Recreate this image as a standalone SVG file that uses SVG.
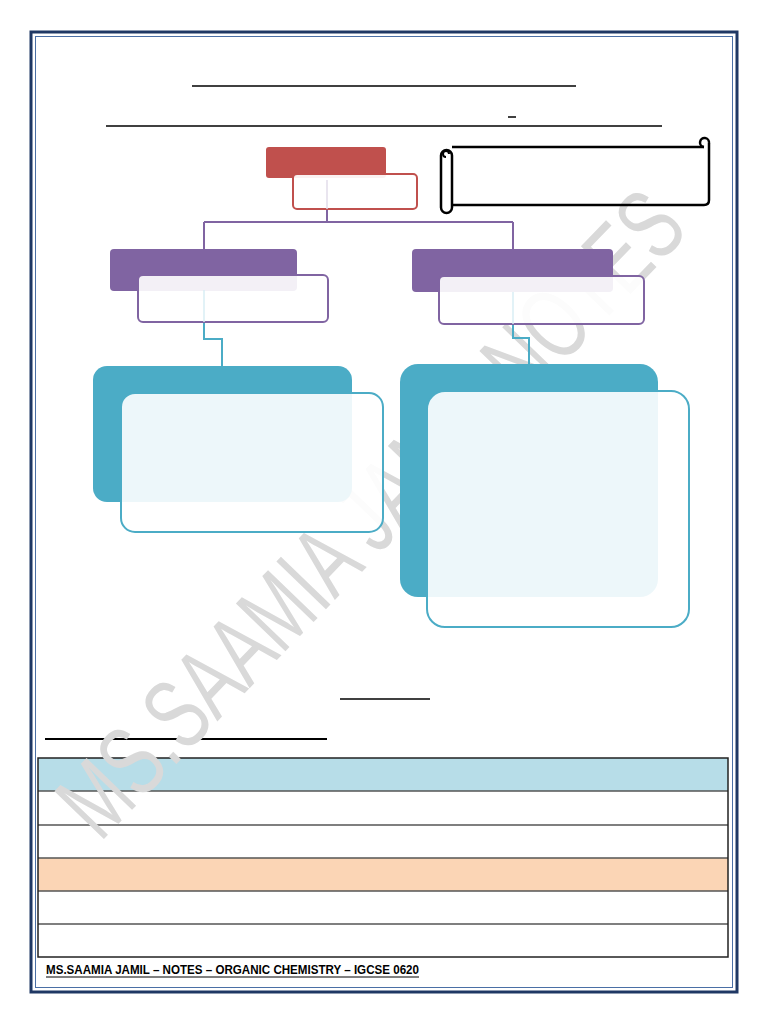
<svg xmlns="http://www.w3.org/2000/svg" width="768" height="1024" viewBox="0 0 768 1024">
<defs>
<style>
.rule{stroke:#000;stroke-width:1.5;fill:none}
.redf{fill:#c0504d}
.redb{fill:#fff;fill-opacity:0.92;stroke:#c0504d;stroke-width:2}
.purf{fill:#8064a2}
.purb{fill:#fff;fill-opacity:0.9;stroke:#8064a2;stroke-width:2}
.tealf{fill:#4bacc6}
.tealb{fill:#fff;fill-opacity:0.9;stroke:#4bacc6;stroke-width:2}
.conn-p{stroke:#8064a2;stroke-width:2;fill:none}
.conn-t{stroke:#4bacc6;stroke-width:2;fill:none}
.ghost{stroke:#e2ddea;stroke-width:1.5;fill:none}
.row{stroke:#555;stroke-width:1.5}
.wm{font-family:"Liberation Sans Narrow","Liberation Sans",Arial,sans-serif;font-size:100px;fill:#d9d9d9}
.foot{font-family:"Liberation Sans Narrow","Liberation Sans",Arial,sans-serif;font-size:13px;font-weight:bold;fill:#000}
</style>
</defs>
<rect width="768" height="1024" fill="#fff"/>
<!-- page border -->
<g id="page-border">
<rect x="31" y="32" width="706" height="960" fill="none" stroke="#1f3864" stroke-width="3"/>
<rect x="35.5" y="36.5" width="697" height="951" fill="none" stroke="#4a6fa5" stroke-width="1"/>
</g>
<!-- heading rules -->
<g id="heading-rules">
<line class="rule" x1="192" y1="86" x2="576" y2="86"/>
<line class="rule" x1="106" y1="126" x2="662" y2="126"/>
<line class="rule" x1="508" y1="117" x2="516" y2="117"/>
<line class="rule" x1="340" y1="699" x2="430" y2="699"/>
<line x1="45" y1="739" x2="327" y2="739" stroke="#000" stroke-width="2"/>
</g>
<!-- table -->
<g id="table">
<rect x="38" y="758" width="690" height="33" fill="#b7dde8"/>
<rect x="38" y="858" width="690" height="33" fill="#fbd5b5"/>
<line class="row" x1="38" y1="791" x2="728" y2="791"/>
<line class="row" x1="38" y1="825" x2="728" y2="825"/>
<line class="row" x1="38" y1="858" x2="728" y2="858"/>
<line class="row" x1="38" y1="891" x2="728" y2="891"/>
<line class="row" x1="38" y1="924" x2="728" y2="924"/>
<rect x="38" y="758" width="690" height="199" fill="none" stroke="#222" stroke-width="1.5"/>
</g>
<!-- watermark -->
<g id="watermark">
<text class="wm" x="0" y="0" textLength="850" lengthAdjust="spacingAndGlyphs" transform="translate(100,843) rotate(-46)">MS.SAAMIA JAMIL NOTES</text>
</g>
<!-- connectors -->
<g id="connectors">
<path class="conn-p" d="M327,209 V222 M204,222 H513 M204,222 V249 M513,222 V249"/>
<path class="conn-t" d="M204,322 V339 H222 V366"/>
<path class="conn-t" d="M513,324 V338 H529 V364"/>
</g>
<!-- nodes -->
<g id="node-root">
<rect class="redf" x="266" y="147" width="120" height="31" rx="3"/>
<rect class="redb" x="293" y="174" width="124" height="35" rx="4"/>
<line class="ghost" x1="327" y1="180" x2="327" y2="209"/>
</g>
<g id="node-scroll">
<path d="M452,147 H704 M709,143 V200 Q709,205 704,205 H452" fill="none" stroke="#000" stroke-width="2.5"/>
<path d="M704,147 A4.5,4.5 0 1 1 709,143" fill="none" stroke="#000" stroke-width="2.5"/>
<rect x="441" y="150" width="11" height="63" rx="5.5" fill="#fff" stroke="#000" stroke-width="2.5"/>
<path d="M446,157 A3,3 0 1 1 449,154" fill="none" stroke="#000" stroke-width="2"/>
</g>
<g id="node-left">
<rect class="purf" x="110" y="249" width="187" height="42" rx="4"/>
<rect class="purb" x="138" y="275" width="190" height="47" rx="5"/>
<line x1="204" y1="290" x2="204" y2="322" stroke="#d8eef4" stroke-width="1.5"/>
</g>
<g id="node-right">
<rect class="purf" x="412" y="249" width="201" height="43" rx="4"/>
<rect class="purb" x="439" y="276" width="205" height="48" rx="5"/>
<line x1="513" y1="292" x2="513" y2="324" stroke="#d8eef4" stroke-width="1.5"/>
</g>
<g id="node-left-detail">
<rect class="tealf" x="93" y="366" width="259" height="136" rx="14"/>
<rect class="tealb" x="121" y="393" width="262" height="139" rx="14"/>
</g>
<g id="node-right-detail">
<rect class="tealf" x="400" y="364" width="258" height="233" rx="18"/>
<rect class="tealb" x="427" y="391" width="262" height="236" rx="18"/>
</g>
<!-- footer -->
<g id="footer">
<text class="foot" x="46" y="974" textLength="373" lengthAdjust="spacingAndGlyphs">MS.SAAMIA JAMIL – NOTES – ORGANIC CHEMISTRY – IGCSE 0620</text>
<line x1="46" y1="977" x2="419" y2="977" stroke="#000" stroke-width="1"/>
</g>
</svg>
